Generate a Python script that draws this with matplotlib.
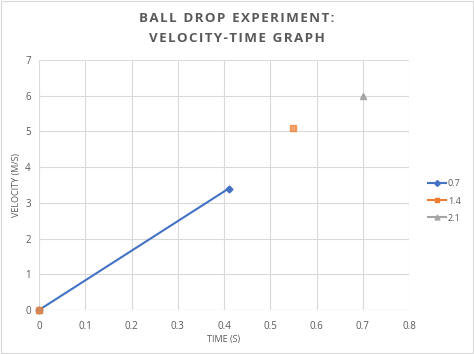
import matplotlib
matplotlib.use("Agg")
import matplotlib.pyplot as plt
from matplotlib.lines import Line2D
from matplotlib.patches import Rectangle

plt.rcParams['font.family'] = ['Open Sans', 'DejaVu Sans']

series_names = ["0.7", "1.4", "2.1"]
s1_time = [0, 0.41]
s1_vel = [0, 3.4]
s2_time = [0, 0.55]
s2_vel = [0, 5.1]
s3_time = [0, 0.7]
s3_vel = [0, 6.0]
x_ticks = [0, 0.1, 0.2, 0.3, 0.4, 0.5, 0.6, 0.7, 0.8]
y_ticks = [0, 1, 2, 3, 4, 5, 6, 7]

colors = ["#4472C4", "#ED7D31", "#A5A5A5"]
text_color = "#595959"

fig = plt.figure(figsize=(4.74, 3.54), dpi=100)
ax = fig.add_axes([39/474, 1-310/354, 370/474, 250/354])

ax.plot(s1_time, s1_vel, color=colors[0], lw=1.5, marker='D', ms=3.5, zorder=3, clip_on=False)
ax.plot(s3_time, s3_vel, color=colors[2], lw=0, marker='^', ms=5, zorder=3, clip_on=False)
ax.plot(s2_time, s2_vel, color=colors[1], lw=0, marker='s', ms=5, zorder=4, alpha=0.7, clip_on=False)

ax.set_xlim(0, 0.8)
ax.set_ylim(0, 7)
ax.set_xticks(x_ticks)
ax.set_xticklabels([("%g" % t) for t in x_ticks])
ax.set_yticks(y_ticks)
ax.grid(True, color="#D9D9D9", lw=0.8)
ax.set_axisbelow(True)
for s in ax.spines.values():
    s.set_visible(False)
ax.axhline(0, color="#D9D9D9", lw=0.8, zorder=1)
ax.tick_params(length=0, labelsize=7, colors=text_color, pad=8)
ax.tick_params(axis='y', pad=6)
ax.set_xlabel("TIME (S)", fontsize=6.5, color=text_color, labelpad=2)
ax.set_ylabel("VELOCITY (M/S)", fontsize=6.5, color=text_color, labelpad=3)

def spaced(s):
    return "\u200a".join(s).replace("\u200a \u200a", "\u2002")

fig.text(0.5, 1-18/354, spaced("BALL DROP EXPERIMENT:"),
         ha='center', va='center', fontsize=9.6, fontweight='bold', color=text_color)
fig.text(0.5, 1-39/354, spaced("VELOCITY-TIME GRAPH"),
         ha='center', va='center', fontsize=9.6, fontweight='bold', color=text_color)

handles = [
    Line2D([], [], color=colors[0], lw=1.5, marker='D', ms=3),
    Line2D([], [], color=colors[1], lw=1.5, marker='s', ms=3.5),
    Line2D([], [], color=colors[2], lw=1.5, marker='^', ms=3.5),
]
fig.legend(handles, series_names, loc='center left', bbox_to_anchor=(420/474, 1-201/354),
           frameon=False, fontsize=6.5, labelcolor=text_color, handlelength=2.0,
           handletextpad=0.2, labelspacing=0.9)

fig.patches.append(Rectangle((0.002, 0.004), 0.996, 0.992, transform=fig.transFigure,
                             fill=False, edgecolor="#D9D9D9", lw=0.8))

fig.savefig("out.png", dpi=100)
